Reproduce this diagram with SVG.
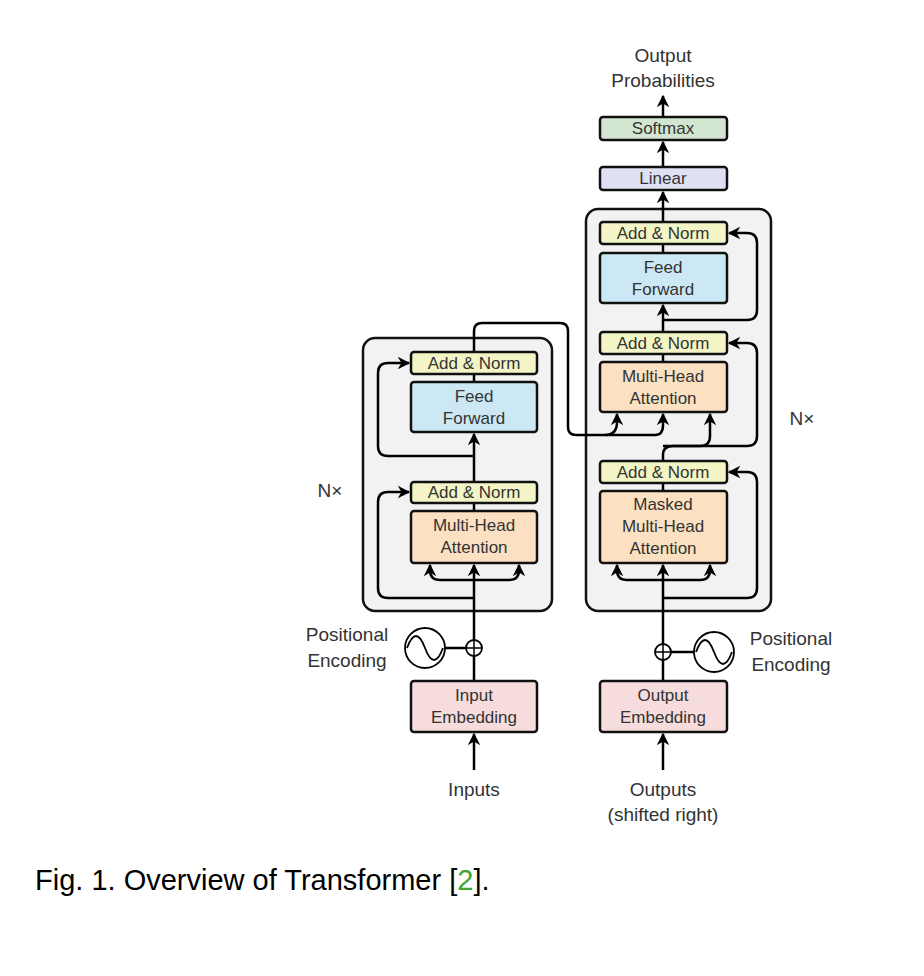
<svg xmlns="http://www.w3.org/2000/svg" width="924" height="976" viewBox="0 0 924 976">
<defs>
<marker id="ah" viewBox="0 0 10 10" refX="9" refY="5" markerWidth="5" markerHeight="5" orient="auto"><path d="M0,0 L10,5 L0,10 L3,5 Z" fill="#000"/></marker>
<style>
.blk{fill:#f2f2f2;stroke:#111;stroke-width:2.5}
.n{stroke:#111;stroke-width:2.5}
.an{fill:#f3f5c6}.ff{fill:#cce8f4}.mh{fill:#fbe1c2}.em{fill:#f6dcdc}.li{fill:#dfe0f2}.sm{fill:#d3e6d2}
text{font-family:"Liberation Sans",Arial,sans-serif;font-size:17px;fill:#333;text-anchor:middle}
.lb{font-size:19px}
.c path,.c line{fill:none;stroke:#000;stroke-width:2.5}
</style>
</defs>
<rect width="924" height="976" fill="#fff"/>
<rect class="blk" x="363" y="338" width="189" height="273" rx="12"/>
<rect class="blk" x="586" y="209" width="185" height="402" rx="12"/>
<g class="c">
<line x1="474" y1="770" x2="474" y2="734" marker-end="url(#ah)"/>
<line x1="474" y1="681" x2="474" y2="656"/>
<line x1="474" y1="640" x2="474" y2="565" marker-end="url(#ah)"/>
<path d="M474,580 H440 Q430,580 430,570 V565" marker-end="url(#ah)"/>
<path d="M474,580 H509 Q519,580 519,570 V565" marker-end="url(#ah)"/>
<path d="M474,598 H388 Q378,598 378,588 V502 Q378,492 388,492 H409" marker-end="url(#ah)"/>
<line x1="474" y1="503" x2="474" y2="511"/>
<line x1="474" y1="482" x2="474" y2="434" marker-end="url(#ah)"/>
<path d="M474,456 H388 Q378,456 378,446 V373 Q378,363 388,363 H409" marker-end="url(#ah)"/>
<line x1="474" y1="374" x2="474" y2="382"/>
<path d="M474,352 V331 Q474,323 482,323 H560 Q568,323 568,331 V427 Q568,435 576,435 H655 Q663,435 663,425 V414" marker-end="url(#ah)"/>
<path d="M605,435 Q617,435 617,422 V414" marker-end="url(#ah)"/>
<line x1="425" y1="648" x2="466" y2="648" stroke-width="2"/>
<line x1="663" y1="770" x2="663" y2="734" marker-end="url(#ah)"/>
<line x1="663" y1="681" x2="663" y2="660"/>
<line x1="663" y1="644" x2="663" y2="565" marker-end="url(#ah)"/>
<path d="M663,580 H627 Q617,580 617,570 V565" marker-end="url(#ah)"/>
<path d="M663,580 H700 Q710,580 710,570 V565" marker-end="url(#ah)"/>
<path d="M663,598 H747 Q757,598 757,588 V482 Q757,472 747,472 H729" marker-end="url(#ah)"/>
<line x1="663" y1="483" x2="663" y2="491"/>
<path d="M663,461 V455 Q663,446 673,446 H700 Q710,446 710,436 V414" marker-end="url(#ah)"/>
<path d="M663,446 H747 Q757,446 757,436 V353 Q757,343 747,343 H729" marker-end="url(#ah)"/>
<line x1="663" y1="354" x2="663" y2="362"/>
<line x1="663" y1="332" x2="663" y2="305" marker-end="url(#ah)"/>
<path d="M663,320 H747 Q757,320 757,310 V243 Q757,233 747,233 H729" marker-end="url(#ah)"/>
<line x1="663" y1="244" x2="663" y2="253"/>
<line x1="663" y1="222" x2="663" y2="192" marker-end="url(#ah)"/>
<line x1="663" y1="167" x2="663" y2="142" marker-end="url(#ah)"/>
<line x1="663" y1="117" x2="663" y2="96" marker-end="url(#ah)"/>
<line x1="671" y1="652" x2="714" y2="652" stroke-width="2"/>
</g>
<g id="enc-an2"><rect class="n an" x="411" y="352" width="126" height="22" rx="3"/><text x="474" y="369">Add &amp; Norm</text></g>
<g id="enc-ff"><rect class="n ff" x="411" y="382" width="126" height="50" rx="3"/><text x="474" y="402">Feed</text><text x="474" y="424">Forward</text></g>
<g id="enc-an1"><rect class="n an" x="411" y="482" width="126" height="21" rx="3"/><text x="474" y="498">Add &amp; Norm</text></g>
<g id="enc-mha"><rect class="n mh" x="411" y="511" width="126" height="52" rx="3"/><text x="474" y="531">Multi-Head</text><text x="474" y="553">Attention</text></g>
<g id="in-emb"><rect class="n em" x="411" y="681" width="126" height="51" rx="3"/><text x="474" y="701">Input</text><text x="474" y="723">Embedding</text></g>
<g id="enc-plus"><circle cx="474" cy="648" r="8" fill="#fff" stroke="#000" stroke-width="1.8"/><path d="M466,648H482M474,640V656" stroke="#000" stroke-width="1.5"/></g>
<g id="enc-pe"><circle cx="425" cy="648" r="20" fill="#fff" stroke="#000" stroke-width="1.8"/><path d="M407,648 C413,632 419,632 425,648 S437,664 443,648" fill="none" stroke="#000" stroke-width="1.8"/></g>
<g id="dec-an3"><rect class="n an" x="600" y="222" width="127" height="22" rx="3"/><text x="663" y="239">Add &amp; Norm</text></g>
<g id="dec-ff"><rect class="n ff" x="600" y="253" width="127" height="50" rx="3"/><text x="663" y="273">Feed</text><text x="663" y="295">Forward</text></g>
<g id="dec-an2"><rect class="n an" x="600" y="332" width="127" height="22" rx="3"/><text x="663" y="349">Add &amp; Norm</text></g>
<g id="dec-mha"><rect class="n mh" x="600" y="362" width="127" height="50" rx="3"/><text x="663" y="382">Multi-Head</text><text x="663" y="404">Attention</text></g>
<g id="dec-an1"><rect class="n an" x="600" y="461" width="127" height="22" rx="3"/><text x="663" y="478">Add &amp; Norm</text></g>
<g id="dec-mmha"><rect class="n mh" x="600" y="491" width="127" height="72" rx="3"/><text x="663" y="510">Masked</text><text x="663" y="532">Multi-Head</text><text x="663" y="554">Attention</text></g>
<g id="out-emb"><rect class="n em" x="600" y="681" width="127" height="51" rx="3"/><text x="663" y="701">Output</text><text x="663" y="723">Embedding</text></g>
<g id="dec-plus"><circle cx="663" cy="652" r="8" fill="#fff" stroke="#000" stroke-width="1.8"/><path d="M655,652H671M663,644V660" stroke="#000" stroke-width="1.5"/></g>
<g id="dec-pe"><circle cx="714" cy="652" r="20" fill="#fff" stroke="#000" stroke-width="1.8"/><path d="M696,652 C702,636 708,636 714,652 S726,668 732,652" fill="none" stroke="#000" stroke-width="1.8"/></g>
<g id="linear"><rect class="n li" x="600" y="167" width="127" height="23" rx="3"/><text x="663" y="184">Linear</text></g>
<g id="softmax"><rect class="n sm" x="600" y="117" width="127" height="23" rx="3"/><text x="663" y="134">Softmax</text></g>
<text class="lb" x="663" y="62">Output</text>
<text class="lb" x="663" y="87">Probabilities</text>
<text class="lb" x="474" y="796">Inputs</text>
<text class="lb" x="663" y="796">Outputs</text>
<text class="lb" x="663" y="821">(shifted right)</text>
<text class="lb" x="347" y="641">Positional</text>
<text class="lb" x="347" y="667">Encoding</text>
<text class="lb" x="791" y="645">Positional</text>
<text class="lb" x="791" y="671">Encoding</text>
<text class="lb" x="330" y="497">N×</text>
<text class="lb" x="802" y="425">N×</text>
<text x="35" y="890" style="font-size:29px;fill:#000;text-anchor:start">Fig. 1. Overview of Transformer [<tspan fill="#3aa832">2</tspan>].</text>
</svg>
